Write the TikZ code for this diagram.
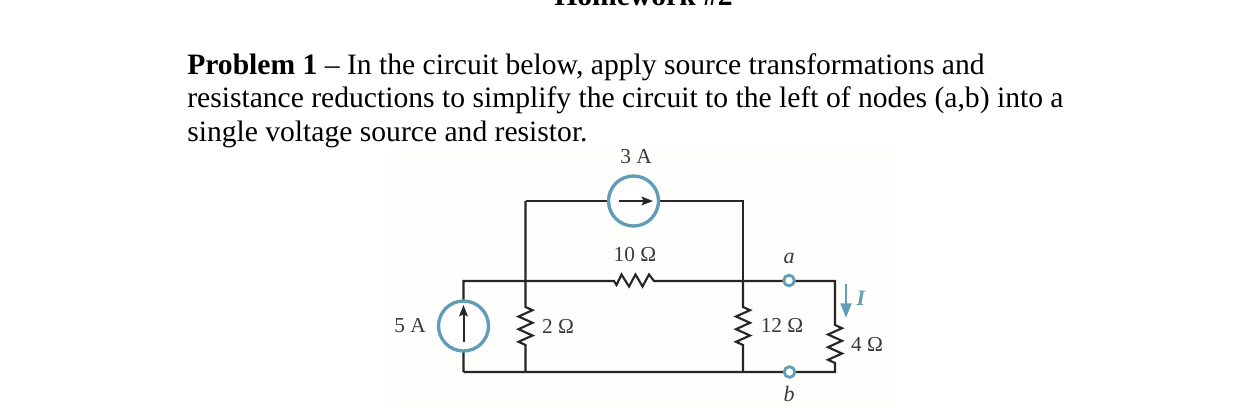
\documentclass[tikz,border=0pt]{standalone}
\usepackage{fontspec}
\setmainfont{Liberation Serif}
\usetikzlibrary{arrows.meta,calc}
\definecolor{srcblue}{HTML}{5F9DB8}
\definecolor{wirec}{HTML}{262626}
\definecolor{labc}{HTML}{3A3A3A}
\definecolor{scan}{HTML}{FEFEFC}
\tikzset{
  x=0.75pt,y=-0.75pt,
  para/.style={anchor=base west,inner sep=0pt,text=black,font=\fontsize{22.2}{25}\selectfont},
  title/.style={anchor=base,inner sep=0pt,text=black,font=\fontsize{22.2}{25}\selectfont\bfseries},
  lab/.style={inner sep=0pt,text=labc,font=\fontsize{16}{18}\selectfont},
  ilab/.style={inner sep=0pt,text=labc,font=\fontsize{16.5}{18}\selectfont\itshape},
  wire/.style={draw=wirec,line width=1.6pt,line join=miter},
  src/.style={circle,draw=srcblue,line width=2.5pt,fill=white,minimum size=37.5pt,inner sep=0pt},
  term/.style={circle,draw=srcblue,line width=2.1pt,fill=white,minimum size=8pt,inner sep=0pt},
  sarrow/.style={draw=wirec,line width=1.5pt,-{Stealth[length=8.5pt,width=6.5pt,inset=1.5pt]}},
  resv/.style={to path={-- ++(7,3.2) -- ++(-14,6.3) -- ++(14,6.3) -- ++(-14,6.4) -- ++(14,6.3) -- ++(-14,6.3) -- (\tikztotarget)}},
  resh/.style={to path={-- ++(2.5,4) -- ++(5,-10.5) -- ++(7.5,12) -- ++(6.5,-12) -- ++(7,12) -- ++(6.5,-12) -- (\tikztotarget)}},
}
\begin{document}
\begin{tikzpicture}
\useasboundingbox (0,0) rectangle (1259,407);
\fill[white] (0,0) rectangle (1259,407);
\fill[scan] (388,150) rectangle (895,407);
\node[title] (ttl) at (643.5,5) {Homework \#2};
\node[para] (l1) at (187,74) {\textbf{Problem 1} – In the circuit below, apply source transformations and};
\node[para] (l2) at (187,107.5) {resistance reductions to simplify the circuit to the left of nodes (a,b) into a};
\node[para] (l3) at (187,141) {single voltage source and resistor.};
% junctions and corners
\coordinate (tl) at (525.5,201);
\coordinate (tr) at (743,201);
\coordinate (ml) at (463.5,281);
\coordinate (j2) at (525.5,281);
\coordinate (j12) at (743,281);
\coordinate (mr) at (835,281);
\coordinate (bl) at (463.5,372);
\coordinate (b2) at (525.5,372);
\coordinate (b12) at (743,372);
\coordinate (br) at (835,372);
% resistor ends
\coordinate (r2t) at (525.5,307);
\coordinate (r2b) at (525.5,345);
\coordinate (r12t) at (743,307);
\coordinate (r12b) at (743,345);
\coordinate (r4t) at (835,325);
\coordinate (r4b) at (835,363);
\coordinate (r10l) at (614,281);
\coordinate (r10r) at (654,281);
% wires
\draw[wire] (tl) -- (tr) -- (j12);
\draw[wire] (tl) -- (r2t) to[resv] (r2b) -- (b2);
\draw[wire] (j12) -- (r12t) to[resv] (r12b) -- (b12);
\draw[wire] (bl) -- (ml) -- (r10l) to[resh] (r10r) -- (mr) -- (r4t) to[resv] (r4b) -- (br) -- (bl);
% sources
\node[src] (s5) at (463.5,326) {};
\node[src] (s3) at (633.5,201) {};
\coordinate (s5a) at (463.5,342);
\coordinate (s5b) at (463.5,305);
\coordinate (s3a) at (619,201);
\coordinate (s3b) at (653,201);
\draw[sarrow] (s5a) -- (s5b);
\draw[sarrow] (s3a) -- (s3b);
% terminals
\node[term] (a) at (789,280.5) {};
\node[term] (b) at (789.5,372) {};
% current arrow
\coordinate (ia) at (846,284);
\coordinate (ib) at (846,318);
\draw[draw=srcblue,line width=2pt,-{Stealth[length=11pt,width=8pt,inset=0pt]}] (ia) -- (ib);
% labels
\node[lab] (l3a) at (636,157) {3 A};
\node[lab] (l10) at (635,255) {10 Ω};
\node[lab] (l5a) at (410,326) {5 A};
\node[lab] (l2o) at (558,326) {2 Ω};
\node[lab] (l12) at (782,325) {12 Ω};
\node[lab] (l4) at (867,344) {4 Ω};
\node[ilab] (la) at (789,258) {a};
\node[ilab] (lb) at (789,394) {b};
\node[ilab,text=srcblue,font=\fontsize{16.5}{18}\selectfont\itshape\bfseries] (li) at (861,298) {I};
\end{tikzpicture}
\end{document}
